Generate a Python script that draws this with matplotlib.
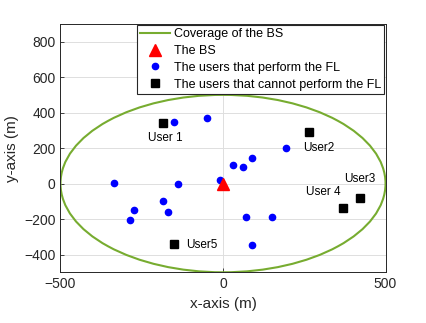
import matplotlib
matplotlib.use('Agg')
import matplotlib.pyplot as plt
from matplotlib.patches import Circle
from matplotlib.lines import Line2D

plt.rcParams['font.family'] = ['Liberation Sans', 'DejaVu Sans']

# base station and its coverage
bs_x, bs_y = 0, 0
coverage_radius = 500

# users that take part in the FL
fl_x = [-150, -50, 195, 90, 30, 60, -10, -335, -140, -185, -170, -275, -285, 70, 150, 90]
fl_y = [345, 370, 200, 145, 105, 95, 20, 5, 0, -100, -160, -150, -205, -190, -190, -345]

# users that cannot take part
out_x = [-185, 265, 420, 370, -150]
out_y = [340, 290, -80, -140, -340]
out_names = ['User 1', 'User2', 'User3', 'User 4', 'User5']
name_x = [-232, 245, 372, 255, -115]
name_y = [259, 199, 26, -45, -344]

green = '#77AC30'
dark = '#262626'

fig = plt.figure(figsize=(4.26, 3.23), dpi=100)
ax = fig.add_axes([0.142, 0.157, 0.763, 0.769])

ax.add_patch(Circle((bs_x, bs_y), coverage_radius, fill=False,
                    edgecolor=green, linewidth=1.5, zorder=2))
ax.plot(fl_x, fl_y, 'o', color='blue', markersize=4.5, zorder=3)
ax.plot([bs_x], [bs_y], '^', color='red', markersize=8, zorder=4)
ax.plot(out_x, out_y, 's', color='black', markersize=5.5, zorder=4)
for nm, tx, ty in zip(out_names, name_x, name_y):
    ax.text(tx, ty, nm, fontsize=8.5, va='center', ha='left', zorder=5)

ax.set_xlim(-500, 500)
ax.set_ylim(-500, 900)
ax.set_xticks([-500, 0, 500])
ax.set_yticks([-400, -200, 0, 200, 400, 600, 800])
ax.tick_params(direction='in', labelsize=10, colors=dark, length=3, width=0.6)
ax.grid(True, color='#dedede', linewidth=0.7)
ax.set_axisbelow(True)
for s in ax.spines.values():
    s.set_color(dark)
    s.set_linewidth(0.7)
ax.set_xlabel('x-axis (m)', fontsize=11, color=dark)
ax.set_ylabel('y-axis (m)', fontsize=11, color=dark)

handles = [
    Line2D([], [], color=green, linewidth=1.5),
    Line2D([], [], marker='^', color='red', linestyle='none', markersize=8),
    Line2D([], [], marker='o', color='blue', linestyle='none', markersize=4.5),
    Line2D([], [], marker='s', color='black', linestyle='none', markersize=5.5),
]
labels = ['Coverage of the BS', 'The BS', 'The users that perform the FL',
          'The users that cannot perform the FL']
leg = ax.legend(handles, labels, loc='upper right', bbox_to_anchor=(1.0, 1.0),
                fontsize=9, frameon=True, fancybox=False, framealpha=1,
                borderaxespad=0.1, borderpad=0.25, labelspacing=0.38,
                handlelength=2.4, handletextpad=0.3)
leg.get_frame().set_edgecolor(dark)
leg.get_frame().set_linewidth(0.8)

fig.savefig('out.png', dpi=100)
